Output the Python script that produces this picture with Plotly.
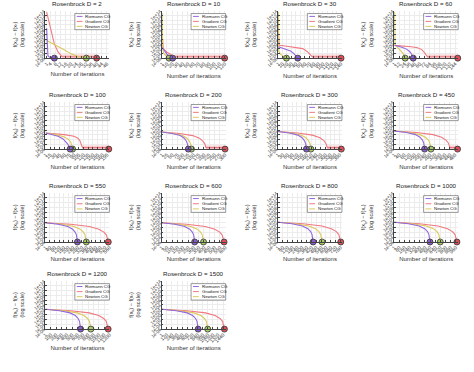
import plotly.graph_objects as go

# ---------------- data ----------------
dims = [2, 10, 30, 60, 100, 200, 300, 450, 550, 600, 800, 1000, 1200, 1500]
method_names = ["Riemann CG", "Gradient CG", "Newton CG"]

riemann_iters = [
    [1, 2, 3, 4, 5, 6, 7],
    [1, 5, 10, 15, 21],
    [1, 10, 20, 28, 35, 40, 44],
    [1, 10, 20, 30, 37, 42, 45],
    [1, 20, 40, 55, 63, 70, 75, 78],
    [1, 50, 88, 107, 117, 122, 126],
    [1, 72, 126, 153, 167, 175, 180],
    [1, 96, 168, 204, 223, 233, 240],
    [1, 112, 196, 238, 260, 272, 280],
    [1, 125, 218, 265, 290, 303, 312],
    [1, 176, 308, 374, 409, 427, 440],
    [1, 224, 392, 476, 521, 543, 560],
    [1, 264, 462, 561, 614, 640, 660],
    [1, 342, 599, 727, 795, 829, 855],
]
riemann_vals = [
    [4e6, 1e-5, 3e-6, 2e-6, 1.5e-6, 1.2e-6, 1e-6],
    [3.2e-2, 1e-3, 5e-5, 5e-6, 1e-6],
    [6.3e-2, 1.6e-2, 4e-3, 1e-3, 1e-4, 1e-5, 1e-6],
    [2.5e-1, 1e-1, 3.2e-2, 5e-3, 5e-4, 2.5e-5, 1e-6],
    [6.3e0, 1.6e0, 2.5e-1, 2.5e-2, 2.5e-3, 1.6e-4, 1e-5, 1e-6],
    [1.6e1, 4.0e0, 5.0e-1, 4.0e-2, 2.5e-3, 1.6e-4, 1e-6],
    [2.5e1, 6.3e0, 7.9e-1, 6.3e-2, 4.0e-3, 2.5e-4, 1e-6],
    [4.0e1, 1.0e1, 1.26e0, 1.0e-1, 6.3e-3, 4.0e-4, 1e-6],
    [6.3e1, 1.6e1, 2.0e0, 1.6e-1, 1.0e-2, 6.3e-4, 1e-6],
    [6.3e1, 1.6e1, 2.0e0, 1.6e-1, 1.0e-2, 6.3e-4, 1e-6],
    [1.0e2, 2.5e1, 3.2e0, 2.5e-1, 1.6e-2, 1.0e-3, 1e-6],
    [1.0e2, 2.5e1, 3.2e0, 2.5e-1, 1.6e-2, 1.0e-3, 1e-6],
    [1.6e2, 4.0e1, 5.0e0, 4.0e-1, 2.5e-2, 1.6e-3, 1e-6],
    [1.6e2, 4.0e1, 5.0e0, 4.0e-1, 2.5e-2, 1.6e-3, 1e-6],
]

gradient_iters = [
    [1, 3, 5, 7, 10, 13, 39, 40],
    [1, 3, 10, 18, 25, 119, 120],
    [1, 3, 20, 40, 55, 65, 72, 76, 139, 140],
    [1, 20, 40, 55, 65, 72, 78, 149, 150],
    [1, 30, 60, 90, 100, 108, 113, 117, 199, 200],
    [1, 84, 147, 179, 195, 204, 210, 299, 300],
    [1, 125, 218, 265, 290, 303, 312, 399, 400],
    [1, 176, 308, 374, 409, 427, 440, 499, 500],
    [1, 220, 385, 468, 512, 534, 550],
    [1, 236, 413, 502, 549, 572, 590],
    [1, 314, 550, 667, 730, 761, 785],
    [1, 392, 686, 833, 911, 951, 980],
    [1, 470, 823, 1000, 1094, 1141, 1176],
    [1, 588, 1029, 1250, 1367, 1426, 1470],
]
gradient_vals = [
    [2.5e13, 1e9, 2.5e5, 1e0, 3.2e-4, 4e-6, 4e-6, 1e-6],
    [4.0e4, 1e-2, 3.2e-4, 2.5e-5, 4e-6, 4e-6, 1e-6],
    [1e5, 2.5e-1, 1e-1, 4e-2, 1e-2, 6.3e-4, 2.5e-5, 4e-6, 4e-6, 1e-6],
    [2.5e-1, 1.6e-1, 6.3e-2, 2.5e-2, 4e-3, 1.6e-4, 4e-6, 4e-6, 1e-6],
    [6.3e0, 3.2e0, 1.26e0, 2.5e-1, 6.3e-2, 6.3e-3, 2.5e-4, 4e-6, 4e-6, 1e-6],
    [1.6e1, 4.0e0, 5.0e-1, 4.0e-2, 2.5e-3, 1.6e-4, 4e-6, 4e-6, 1e-6],
    [2.5e1, 6.3e0, 7.9e-1, 6.3e-2, 4.0e-3, 2.5e-4, 4e-6, 4e-6, 1e-6],
    [4.0e1, 1.0e1, 1.26e0, 1.0e-1, 6.3e-3, 4.0e-4, 4e-6, 4e-6, 1e-6],
    [6.3e1, 1.6e1, 2.0e0, 1.6e-1, 1.0e-2, 6.3e-4, 1e-6],
    [6.3e1, 1.6e1, 2.0e0, 1.6e-1, 1.0e-2, 6.3e-4, 1e-6],
    [1.0e2, 2.5e1, 3.2e0, 2.5e-1, 1.6e-2, 1.0e-3, 1e-6],
    [1.0e2, 2.5e1, 3.2e0, 2.5e-1, 1.6e-2, 1.0e-3, 1e-6],
    [1.6e2, 4.0e1, 5.0e0, 4.0e-1, 2.5e-2, 1.6e-3, 1e-6],
    [1.6e2, 4.0e1, 5.0e0, 4.0e-1, 2.5e-2, 1.6e-3, 1e-6],
]
# iteration where the Gradient CG run hits its noise floor (None: never)
gradient_floor_start = [13, 25, 76, 78, 117, 210, 312, 440, None, None, None, None, None, None]
gradient_floor_level = 5e-6

newton_iters = [
    [1, 5, 10, 15, 20, 25, 32],
    [1, 2, 4, 8, 11, 14],
    [1, 2, 5, 10, 15, 19],
    [1, 2, 8, 15, 20, 24, 26],
    [1, 20, 40, 60, 72, 80, 84, 86],
    [1, 56, 99, 120, 131, 137, 141],
    [1, 83, 146, 177, 193, 202, 208],
    [1, 116, 203, 247, 270, 281, 290],
    [1, 143, 251, 304, 333, 347, 358],
    [1, 158, 277, 337, 368, 384, 396],
    [1, 221, 386, 469, 513, 535, 552],
    [1, 288, 504, 612, 670, 698, 720],
    [1, 341, 596, 724, 792, 826, 852],
    [1, 432, 756, 918, 1004, 1048, 1080],
]
newton_vals = [
    [2.5e1, 2.0e0, 6.3e-2, 2.5e-3, 6.3e-5, 6.3e-6, 1e-6],
    [1e13, 1e-2, 1e-4, 1e-5, 2.5e-6, 1e-6],
    [3.2e13, 1e-3, 6.3e-5, 1e-5, 2.5e-6, 1e-6],
    [3.2e13, 2.5e-1, 3.2e-2, 2.5e-3, 1.6e-4, 1e-5, 1e-6],
    [6.3e0, 2.5e0, 7.9e-1, 1.26e-1, 1.6e-2, 1e-3, 3.2e-5, 1e-6],
    [1.6e1, 4.0e0, 5.0e-1, 4.0e-2, 2.5e-3, 1.6e-4, 1e-6],
    [2.5e1, 6.3e0, 7.9e-1, 6.3e-2, 4.0e-3, 2.5e-4, 1e-6],
    [4.0e1, 1.0e1, 1.26e0, 1.0e-1, 6.3e-3, 4.0e-4, 1e-6],
    [6.3e1, 1.6e1, 2.0e0, 1.6e-1, 1.0e-2, 6.3e-4, 1e-6],
    [6.3e1, 1.6e1, 2.0e0, 1.6e-1, 1.0e-2, 6.3e-4, 1e-6],
    [1.0e2, 2.5e1, 3.2e0, 2.5e-1, 1.6e-2, 1.0e-3, 1e-6],
    [1.0e2, 2.5e1, 3.2e0, 2.5e-1, 1.6e-2, 1.0e-3, 1e-6],
    [1.6e2, 4.0e1, 5.0e0, 4.0e-1, 2.5e-2, 1.6e-3, 1e-6],
    [1.6e2, 4.0e1, 5.0e0, 4.0e-1, 2.5e-2, 1.6e-3, 1e-6],
]

x_axis_max = [50, 122, 142, 151, 202, 303, 404, 505, 560, 605, 800, 1000, 1200, 1500]
x_tick_step = [4, 10, 10, 12, 15, 25, 30, 40, 40, 50, 60, 80, 100, 120]
y_tick_vals = [1e-6, 1e-4, 1e-2, 1e0, 1e2, 1e4, 1e6, 1e8, 1e10, 1e12, 1e14]
y_tick_text = ["1e-06", "1e-04", "1e-02", "1e+00", "1e+02", "1e+04",
               "1e+06", "1e+08", "1e+10", "1e+12", "1e+14"]

# ---------------- style ----------------
W, H = 474, 372
FONT = "Liberation Sans"
line_colors = {"Riemann CG": "#9366e0", "Gradient CG": "#f07880", "Newton CG": "#dcc95a"}
marker_colors = {"Riemann CG": "#8a5cd0", "Gradient CG": "#d9505a", "Newton CG": "#a6cc63"}
band_color = "rgba(240,120,130,0.35)"

col_left = [42, 160, 278, 396]
plot_w = 65
row_top = [9, 103, 197, 288]
row_bot = [58, 152, 248, 338]

fig = go.Figure()
shapes = []
annotations = []

for i, d in enumerate(dims):
    r, c = divmod(i, 4)
    k = i + 1
    xa = "x" if k == 1 else f"x{k}"
    ya = "y" if k == 1 else f"y{k}"
    xkey = "xaxis" if k == 1 else f"xaxis{k}"
    ykey = "yaxis" if k == 1 else f"yaxis{k}"

    series = {
        "Riemann CG": (riemann_iters[i], riemann_vals[i]),
        "Gradient CG": (gradient_iters[i], gradient_vals[i]),
        "Newton CG": (newton_iters[i], newton_vals[i]),
    }

    if gradient_floor_start[i] is not None:
        fig.add_trace(go.Scatter(
            x=[gradient_floor_start[i], gradient_iters[i][-1]],
            y=[gradient_floor_level, gradient_floor_level],
            mode="lines", line=dict(color=band_color, width=4),
            xaxis=xa, yaxis=ya, showlegend=False, hoverinfo="skip"))

    for name in ["Gradient CG", "Newton CG", "Riemann CG"]:
        xs, ys = series[name]
        fig.add_trace(go.Scatter(
            x=xs, y=ys, mode="lines", name=name,
            line=dict(color=line_colors[name], width=1.1),
            xaxis=xa, yaxis=ya, showlegend=False))
    for name in ["Gradient CG", "Newton CG", "Riemann CG"]:
        xs, ys = series[name]
        fig.add_trace(go.Scatter(
            x=[xs[-1]], y=[ys[-1]], mode="markers", name=name,
            marker=dict(color=marker_colors[name], size=6,
                        line=dict(color="#333333", width=0.8)),
            cliponaxis=False, xaxis=xa, yaxis=ya, showlegend=False))

    x0 = col_left[c] / W
    x1 = (col_left[c] + plot_w) / W
    y0 = 1 - row_bot[r] / H
    y1 = 1 - row_top[r] / H

    tickvals = [1] + list(range(x_tick_step[i], x_axis_max[i] + 1, x_tick_step[i]))
    fig.layout[xkey] = dict(
        domain=[x0, x1], anchor=ya, range=[0, x_axis_max[i]],
        tickvals=tickvals, ticktext=[str(t) for t in tickvals],
        tickangle=-45, tickfont=dict(size=5, color="#333", family=FONT),
        ticks="inside", ticklen=2, tickcolor="#444",
        showline=True, linecolor="#444", linewidth=0.7,
        showgrid=True, gridcolor="#ececec", gridwidth=0.5, zeroline=False,
        title=dict(text="Number of iterations", font=dict(size=6, color="#333", family=FONT),
                   standoff=3),
    )
    fig.layout[ykey] = dict(
        domain=[y0, y1], anchor=xa, type="log", range=[-6, 14],
        tickvals=y_tick_vals, ticktext=y_tick_text,
        tickangle=-45, tickfont=dict(size=4.6, color="#333", family=FONT),
        ticks="inside", ticklen=2, tickcolor="#444",
        showline=True, linecolor="#444", linewidth=0.7,
        showgrid=True, gridcolor="#ececec", gridwidth=0.5, zeroline=False,
        title=dict(text="f(x<sub>k</sub>) − f(x<sub>*</sub>)<br>(log scale)",
                   font=dict(size=5.5, color="#333", family=FONT), standoff=8),
    )

    annotations.append(dict(
        text=f"Rosenbrock D = {d}", x=0.5, y=1, xref=f"{xa} domain", yref=f"{ya} domain",
        xanchor="center", yanchor="bottom", yshift=2, showarrow=False,
        font=dict(size=6.2, color="#222", family=FONT)))

    # legend box
    lx0, lx1, ly0, ly1 = 0.46, 1.0, 0.6, 0.94
    shapes.append(dict(type="rect", xref=f"{xa} domain", yref=f"{ya} domain",
                       x0=lx0, x1=lx1, y0=ly0, y1=ly1,
                       line=dict(color="#555", width=0.6), fillcolor="white", layer="above"))
    for j, name in enumerate(method_names):
        yy = ly1 - 0.06 - j * 0.105
        shapes.append(dict(type="line", xref=f"{xa} domain", yref=f"{ya} domain",
                           x0=lx0 + 0.03, x1=lx0 + 0.12, y0=yy, y1=yy,
                           line=dict(color=line_colors[name], width=1), layer="above"))
        annotations.append(dict(
            text=name, x=lx0 + 0.135, y=yy, xref=f"{xa} domain", yref=f"{ya} domain",
            xanchor="left", yanchor="middle", showarrow=False,
            font=dict(size=4.4, color="#222", family=FONT)))

fig.update_layout(
    width=W, height=H, margin=dict(l=0, r=0, t=0, b=0),
    paper_bgcolor="white", plot_bgcolor="white",
    showlegend=False, shapes=shapes, annotations=annotations,
    font=dict(family=FONT),
)

fig.write_html("out.html", config={"displayModeBar": False},
               post_script="document.body.style.margin='0';document.body.style.padding='0';")
